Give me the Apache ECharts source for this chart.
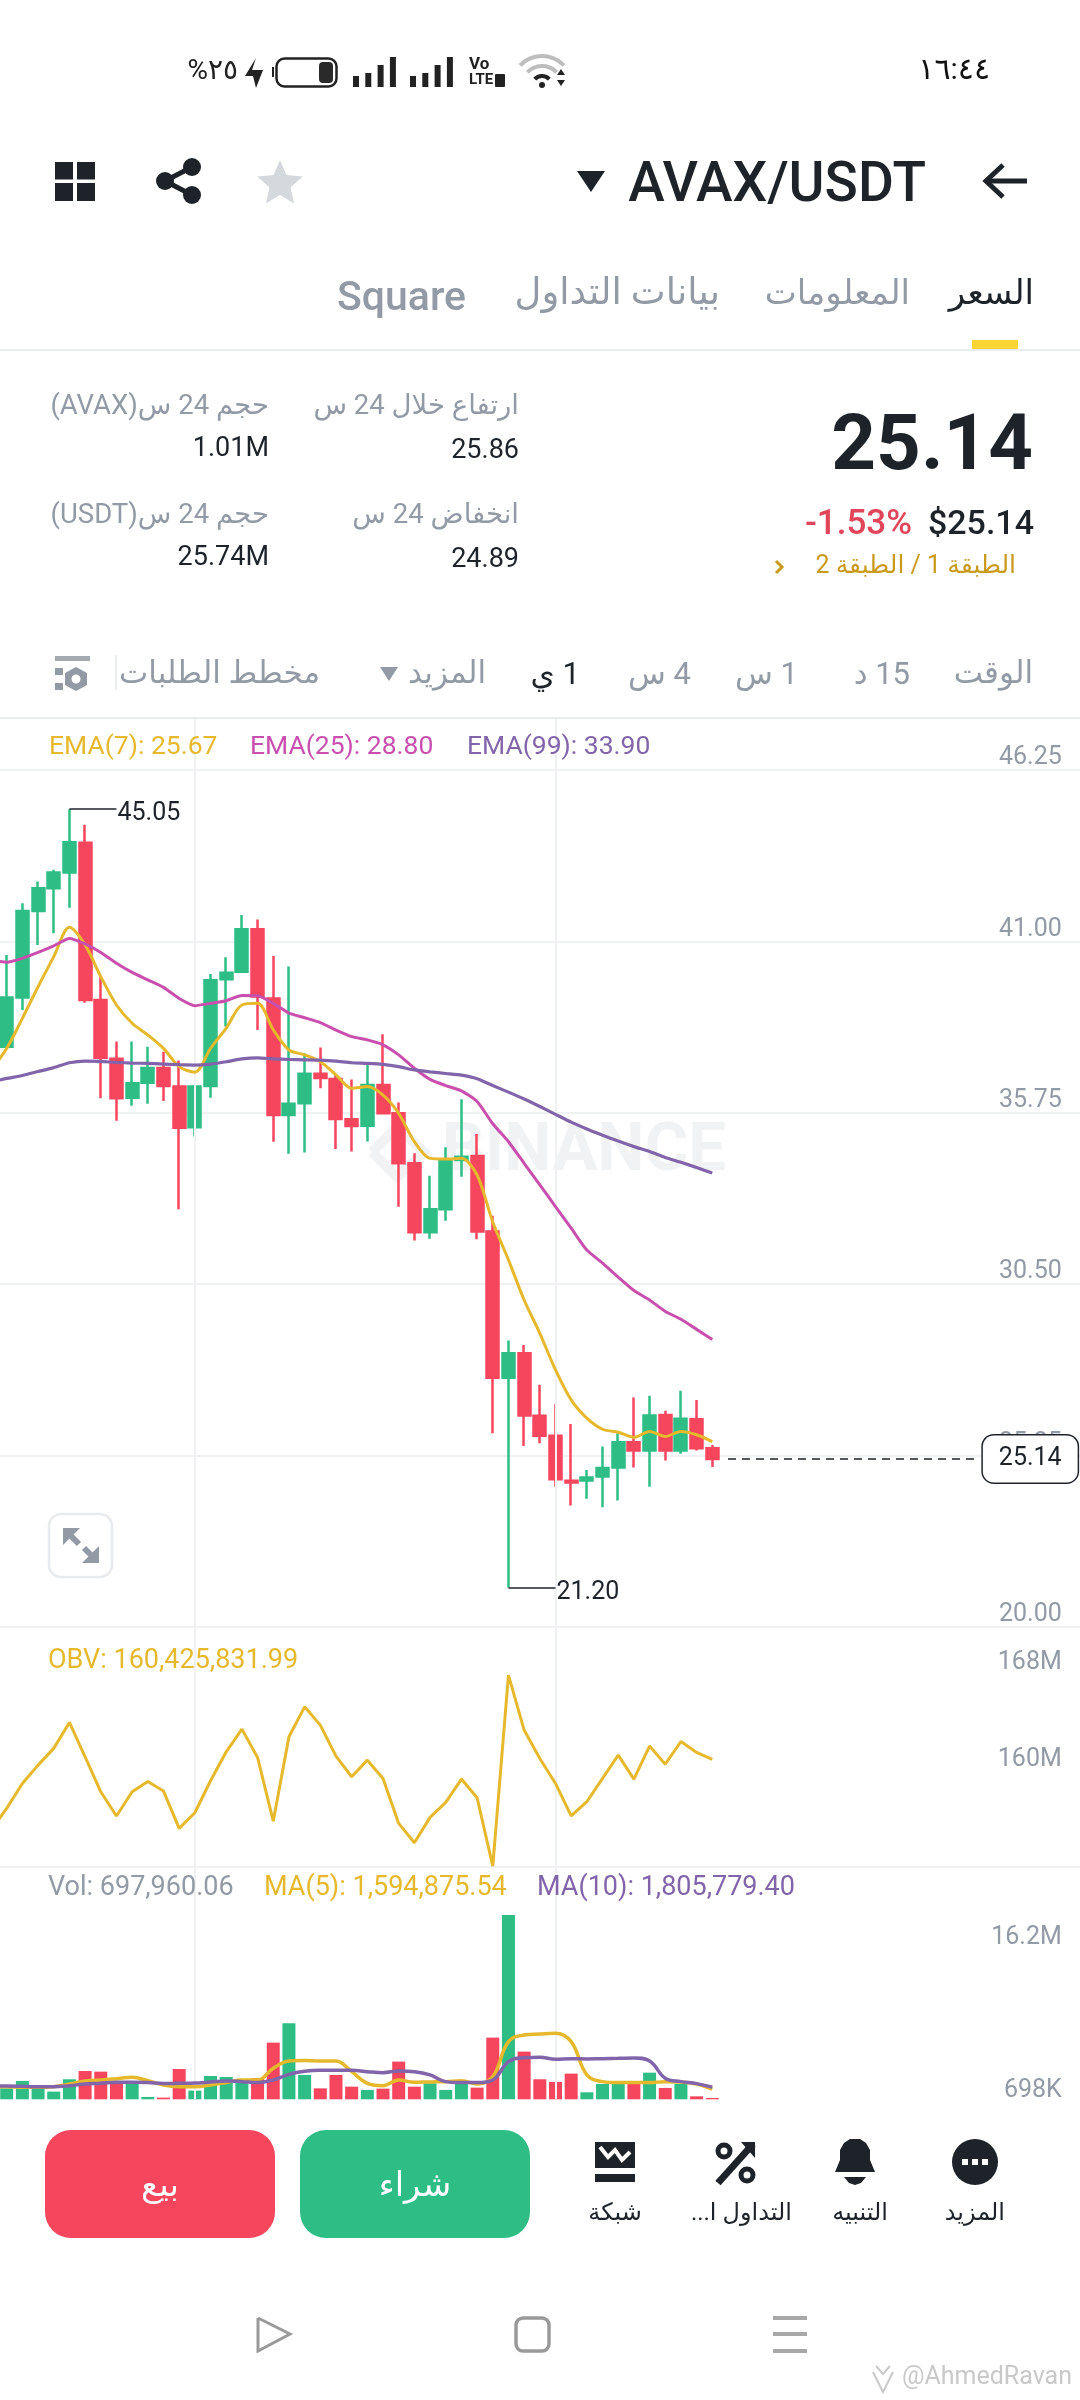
<!DOCTYPE html>
<html>
<head>
<meta charset="utf-8">
<title>AVAX/USDT</title>
<style>
html, body { margin: 0; padding: 0; background: #fff; }
#chart { width: 1080px; height: 2400px; }
</style>
<script src="https://cdn.jsdelivr.net/npm/echarts@6/dist/echarts.min.js"></script>
</head>
<body>
<div id="chart"></div>
<script>
// candles, first entry sits just off the left edge of the screen
var opens  = [36.80, 37.77, 39.28, 41.93, 42.63, 43.11, 44.02, 39.20, 37.40, 36.21, 36.67, 37.12, 36.55, 35.30, 36.57, 39.84, 40.07, 41.37, 39.25, 35.68, 36.04, 36.94, 36.78, 35.55, 35.35, 36.60, 35.73, 34.20, 32.09, 32.79, 34.30, 34.42, 32.11, 27.63, 28.38, 26.46, 25.85, 24.47, 24.48, 24.60, 24.88, 25.65, 25.40, 26.49, 25.40, 26.36, 25.47];
var closes = [37.77, 39.28, 41.93, 42.63, 43.11, 44.04, 39.20, 37.43, 36.19, 36.65, 37.12, 36.57, 35.29, 36.55, 39.81, 40.04, 41.37, 39.31, 35.68, 36.02, 36.94, 36.81, 35.56, 35.34, 36.60, 35.73, 34.20, 32.09, 32.79, 34.28, 34.40, 32.11, 27.63, 28.38, 26.47, 25.85, 24.52, 24.42, 24.57, 24.86, 25.65, 25.40, 26.47, 25.40, 26.37, 25.47, 25.14];
var lows   = [36.50, 37.70, 38.90, 40.89, 41.25, 42.03, 39.12, 36.19, 35.50, 35.96, 36.02, 36.11, 32.79, 35.02, 36.21, 38.39, 40.07, 38.28, 34.86, 34.49, 34.53, 36.50, 34.64, 34.56, 34.87, 35.71, 32.87, 31.83, 31.89, 32.44, 33.79, 31.87, 25.93, 21.20, 25.54, 25.62, 24.29, 23.71, 23.92, 23.66, 23.87, 24.88, 24.29, 25.09, 25.30, 25.40, 24.89];
var highs  = [38.00, 40.58, 42.17, 42.83, 43.19, 45.05, 44.57, 39.92, 37.93, 37.93, 37.77, 37.62, 37.35, 36.60, 40.00, 40.51, 41.81, 41.67, 40.55, 40.23, 37.57, 37.75, 36.91, 36.77, 37.24, 38.15, 36.06, 34.51, 33.82, 34.69, 36.16, 35.10, 32.59, 28.77, 28.63, 27.41, 26.82, 26.21, 24.80, 25.52, 25.93, 27.02, 27.08, 26.62, 27.23, 26.95, 25.57];

var ema7  = [37.06, 37.72, 38.64, 39.61, 40.53, 41.43, 40.89, 39.92, 39.05, 38.49, 38.13, 37.72, 37.16, 36.99, 37.72, 38.34, 39.05, 39.10, 38.29, 37.67, 37.52, 37.31, 36.91, 36.50, 36.55, 36.29, 35.73, 34.86, 34.35, 34.33, 34.35, 33.84, 32.40, 31.24, 30.01, 28.99, 27.87, 26.95, 26.39, 26.05, 25.96, 25.80, 25.98, 25.83, 25.98, 25.88, 25.67];
var ema25 = [40.43, 40.36, 40.48, 40.66, 40.86, 41.09, 40.92, 40.66, 40.33, 40.05, 39.82, 39.59, 39.25, 39.03, 39.10, 39.18, 39.34, 39.33, 39.10, 38.80, 38.66, 38.51, 38.28, 38.08, 37.98, 37.83, 37.52, 37.11, 36.77, 36.58, 36.42, 36.09, 35.41, 34.86, 34.20, 33.54, 32.87, 32.21, 31.54, 31.14, 30.71, 30.30, 30.01, 29.66, 29.42, 29.11, 28.80];
var ema99 = [36.70, 36.80, 36.89, 37.01, 37.13, 37.28, 37.33, 37.32, 37.29, 37.27, 37.26, 37.24, 37.22, 37.21, 37.24, 37.31, 37.40, 37.43, 37.40, 37.38, 37.37, 37.36, 37.33, 37.28, 37.26, 37.23, 37.16, 37.06, 37.00, 36.95, 36.90, 36.79, 36.58, 36.38, 36.17, 35.94, 35.70, 35.46, 35.25, 35.06, 34.88, 34.71, 34.56, 34.38, 34.23, 34.07, 33.90];

// OBV in millions
var obv = [154.60, 156.39, 158.45, 159.96, 161.34, 163.48, 160.65, 157.76, 155.76, 157.76, 158.61, 157.82, 154.74, 156.03, 158.67, 161.06, 162.93, 160.59, 155.34, 162.30, 164.77, 163.26, 160.70, 159.00, 160.37, 158.86, 155.15, 153.56, 155.65, 156.88, 158.81, 157.27, 151.63, 167.38, 162.85, 160.51, 158.45, 155.78, 156.94, 158.86, 160.79, 158.81, 161.53, 160.04, 161.91, 161.01, 160.43];

// volume in millions
var volumes = [1.60, 1.68, 2.43, 1.68, 1.35, 2.60, 3.44, 3.37, 2.36, 2.36, 0.81, 0.74, 3.64, 1.45, 2.93, 2.83, 2.36, 2.70, 6.31, 8.27, 3.04, 1.68, 3.04, 1.85, 1.52, 1.65, 4.39, 1.85, 2.19, 1.52, 2.36, 1.75, 6.82, 19.24, 5.40, 2.60, 2.33, 3.17, 1.28, 2.12, 2.12, 2.12, 3.27, 1.72, 2.12, 0.87, 0.698];
var ma5  = [1.85, 1.85, 1.79, 1.79, 1.85, 2.12, 2.43, 2.53, 2.66, 2.80, 2.46, 2.02, 1.85, 1.85, 2.02, 2.26, 2.53, 2.53, 3.71, 4.45, 4.49, 4.45, 4.45, 3.37, 2.19, 1.95, 2.53, 2.29, 2.33, 2.36, 2.46, 2.12, 2.87, 6.41, 7.09, 7.19, 7.26, 6.41, 3.04, 2.36, 2.26, 2.26, 2.26, 2.36, 2.33, 2.12, 1.595];
var ma10 = [1.92, 1.92, 1.89, 1.85, 1.85, 1.95, 2.12, 2.19, 2.29, 2.29, 2.26, 2.16, 2.19, 2.22, 2.33, 2.43, 2.36, 2.26, 2.53, 3.10, 3.41, 3.51, 3.51, 3.51, 3.37, 3.27, 3.44, 3.37, 3.04, 2.36, 2.26, 2.26, 2.53, 4.39, 4.79, 4.82, 4.62, 4.69, 4.66, 4.69, 4.72, 4.76, 4.45, 2.70, 2.36, 2.16, 1.806];

var priceTicks = [20, 25.25, 30.5, 35.75, 41, 46.25];
var obvTicks = [160, 168];
var volTicks = [0.698, 16.2];
var verticalLines = [13, 36];
var slots = [];
for (var s = 0; s < 70; s++) slots.push(String(s));

var UP = '#2ebd85', DOWN = '#f6465d', DARK = '#1e2329', GREY = '#929aa5', LINE = '#f0f1f3';
var YELLOW = '#e6b82c', PINK = '#c94fae', PURPLE = '#8264ab';
var FONT = 'Roboto, "DejaVu Sans", sans-serif';

var myChart = echarts.init(document.getElementById('chart'));

var candles = opens.map(function (o, i) { return [o, closes[i], lows[i], highs[i]]; });
var volumeBars = volumes.map(function (v, i) {
    return { value: v, itemStyle: { color: closes[i] >= opens[i] ? UP : DOWN } };
});

function lineSeries(name, data, color, grid, width, smooth) {
    return {
        name: name, type: 'line', data: data, xAxisIndex: grid, yAxisIndex: grid,
        showSymbol: false, smooth: smooth, silent: true, z: 5,
        lineStyle: { color: color, width: width }
    };
}

function leader(index, value, text) {
    return [{
        coord: [index, value],
        lineStyle: { type: 'solid', color: DARK, width: 1.5 },
        label: { show: true, position: 'end', formatter: text, color: DARK, fontSize: 25, distance: 1, fontFamily: FONT, offset: [0, 5] }
    }, { coord: [index + 3, value] }];
}

function hiddenX(grid, line) {
    return {
        type: 'category', gridIndex: grid, data: slots, boundaryGap: true,
        axisLabel: { show: false }, axisTick: { show: false }, splitLine: { show: false },
        axisLine: { show: !!line, lineStyle: { color: LINE, width: 2 } }
    };
}

function rightY(grid, min, max, ticks, fmt, gridLines, labelHeight) {
    return {
        type: 'value', gridIndex: grid, position: 'right', min: min, max: max, scale: true,
        axisLine: { show: false },
        axisTick: { show: false, customValues: ticks },
        splitLine: { show: gridLines, lineStyle: { color: LINE, width: 2 } },
        axisLabel: {
            show: true, inside: true, customValues: ticks, formatter: fmt, margin: 19,
            color: GREY, fontSize: 25, fontFamily: FONT, verticalAlign: 'bottom', lineHeight: labelHeight
        }
    };
}

// ---- screen furniture ----
function rtl(s) { return '\u202B' + s + '\u202C'; }
function txt(text, x, y, size, color, align, weight) {
    return { type: 'text', x: x, y: y, silent: true, style: {
        text: text, fill: color, font: (weight || 'normal') + ' ' + size + 'px ' + FONT,
        align: align || 'right', verticalAlign: 'middle' } };
}
// legends sit over the time lines
function legend(text, x, y, size, color) {
    var el = txt(text, x, y, size, color, 'left');
    el.z = 10;
    return el;
}
function box(x, y, w, h, fill, r, stroke, lw) {
    return { type: 'rect', silent: true, shape: { x: x, y: y, width: w, height: h, r: r || 0 },
        style: { fill: fill || 'none', stroke: stroke || 'none', lineWidth: lw || 0 } };
}
function poly(points, fill) {
    return { type: 'polygon', silent: true, shape: { points: points }, style: { fill: fill } };
}
function stroke(points, color, w) {
    return { type: 'polyline', silent: true, shape: { points: points },
        style: { stroke: color, lineWidth: w, fill: 'none' } };
}
function dot(cx, cy, r, fill, strokeColor, lw) {
    return { type: 'circle', silent: true, shape: { cx: cx, cy: cy, r: r },
        style: { fill: fill || 'none', stroke: strokeColor || 'none', lineWidth: lw || 0 } };
}
function arc(cx, cy, r, color, w) {
    return { type: 'arc', silent: true,
        shape: { cx: cx, cy: cy, r: r, startAngle: -Math.PI * 0.76, endAngle: -Math.PI * 0.24, clockwise: true },
        style: { stroke: color, lineWidth: w, fill: 'none' } };
}
function bars(x0) {
    var tops = [76, 73, 65, 57], out = [];
    tops.forEach(function (t, i) { out.push(box(x0 + i * 12.3, t, 6, 87 - t, '#222')); });
    return out;
}
function star(cx, cy, R, r, fill) {
    var pts = [];
    for (var i = 0; i < 10; i++) {
        var a = -Math.PI / 2 + i * Math.PI / 5, q = i % 2 ? r : R;
        pts.push([cx + q * Math.cos(a), cy + q * Math.sin(a)]);
    }
    return poly(pts, fill);
}

var furniture = [
    // status bar
    txt('\u0661\u0666:\u0664\u0664', 990, 71, 30, '#111', 'right', 'normal'),
    txt('%\u0662\u0665', 238, 72, 28, '#222', 'right', 'normal'),
    poly([[256, 58], [252, 70], [263, 70], [256, 88], [253, 76], [245, 76]], '#222'),
    box(272, 67, 2, 10, '#222'),
    box(276.5, 58.5, 60, 28, '#fff', 8, '#222', 2.5),
    box(319, 62, 14, 21, '#2a2a2a', 4),
    txt('Vo', 469, 65, 17, '#222', 'left', 'bold'),
    txt('LTE', 469, 80, 15, '#222', 'left', 'bold'),
    box(495, 74, 10, 13, '#222', 1),
    arc(542, 86, 30, '#bdbdbd', 4),
    arc(542, 86, 20, '#bdbdbd', 4),
    arc(542, 86, 10, '#222', 4),
    dot(542, 85, 3, '#222'),
    poly([[557, 75], [565, 75], [561, 69]], '#222'),
    poly([[557, 80], [565, 80], [561, 86]], '#222'),
    // header
    stroke([[1003, 165], [986, 181], [1003, 197]], DARK, 5),
    stroke([[987, 181], [1027, 181]], DARK, 5),
    txt('AVAX/USDT', 926, 187, 55, DARK, 'right', 500),
    poly([[577, 171], [605, 171], [591, 192]], DARK),
    star(280, 184, 24, 11, '#d5d8dc'),
    dot(165, 181, 9, DARK), dot(192, 167, 9, DARK), dot(192, 195, 9, DARK),
    stroke([[192, 167], [165, 181], [192, 195]], DARK, 5),
    box(55, 162, 18, 17.5, DARK), box(77, 162, 18, 17.5, DARK),
    box(55, 183, 18, 18, DARK), box(77, 183, 18, 18, DARK),
    // tabs
    txt('\u0627\u0644\u0633\u0639\u0631', 1034, 295, 34, DARK),
    txt('\u0627\u0644\u0645\u0639\u0644\u0648\u0645\u0627\u062A', 910, 295, 34, GREY),
    txt('\u0628\u064A\u0627\u0646\u0627\u062A \u0627\u0644\u062A\u062F\u0627\u0648\u0644', 720, 295, 37, GREY),
    txt('Square', 466, 300, 41, GREY, 'right', 500),
    box(972, 340, 46, 9, '#fcd535'),
    box(0, 349, 1080, 2, '#eaecef'),
    // 24h stats
    txt(rtl('\u0627\u0631\u062A\u0641\u0627\u0639 \u062E\u0644\u0627\u0644 24 \u0633'), 519, 407, 27.5, GREY),
    txt('25.86', 519, 451, 27, DARK),
    txt(rtl('\u0627\u0646\u062E\u0641\u0627\u0636 24 \u0633'), 519, 516, 27.5, GREY),
    txt('24.89', 519, 560, 27, DARK),
    txt(rtl('\u062D\u062C\u0645 24 \u0633(AVAX)'), 269, 407, 27.5, GREY),
    txt('1.01M', 269, 449, 27, DARK),
    txt(rtl('\u062D\u062C\u0645 24 \u0633(USDT)'), 269, 516, 27.5, GREY),
    txt('25.74M', 269, 558, 27, DARK),
    txt('25.14', 1033, 449, 78, DARK, 'right', 'bold'),
    txt('$25.14', 1034, 525, 34, DARK, 'right', 500),
    txt('-1.53%', 912, 525, 35, '#e0455a', 'right', 500),
    txt(rtl('\u0627\u0644\u0637\u0628\u0642\u0629 1 / \u0627\u0644\u0637\u0628\u0642\u0629 2'), 1016, 567, 25, '#c99a1c'),
    stroke([[776, 561], [782, 567], [776, 573]], '#c99a1c', 3),
    // interval bar
    txt('\u0627\u0644\u0648\u0642\u062A', 1033, 675, 31, GREY),
    txt(rtl('15 \u062F'), 910, 676, 31, GREY),
    txt(rtl('1 \u0633'), 798, 676, 31, GREY),
    txt(rtl('4 \u0633'), 691, 676, 31, GREY),
    txt(rtl('1 \u064A'), 580, 676, 31, DARK),
    txt('\u0627\u0644\u0645\u0632\u064A\u062F', 486, 675, 31, GREY),
    poly([[380, 667], [398, 667], [389, 681]], GREY),
    txt('\u0645\u062E\u0637\u0637 \u0627\u0644\u0637\u0644\u0628\u0627\u062A', 320, 675, 31, GREY),
    box(115, 655, 2, 35, '#eaecef'),
    box(55, 656, 35, 5, '#a4a9b0'),
    box(55, 668, 8, 7, GREY), box(55, 683, 8, 7, GREY),
    poly([[76, 667], [87, 673], [87, 685], [76, 691], [65, 685], [65, 673]], GREY),
    dot(76, 679, 4.5, '#fff'),
    box(0, 717, 1080, 2, '#eaecef'),
    // legends
    legend('EMA(7): 25.67', 49, 747, 26.5, YELLOW),
    legend('EMA(25): 28.80', 250, 747, 26.5, PINK),
    legend('EMA(99): 33.90', 467, 747, 26.5, PURPLE),
    legend('OBV: 160,425,831.99', 48, 1661, 27, YELLOW),
    legend('Vol: 697,960.06', 48, 1888, 27, GREY),
    legend('MA(5): 1,594,875.54', 264, 1888, 27, YELLOW),
    legend('MA(10): 1,805,779.40', 537, 1888, 27, PURPLE),
    // watermark
    txt('BINANCE', 726, 1153, 67, '#f1f2f4', 'right', 'bold'),
    stroke([[372, 1152], [397, 1127], [424, 1152], [397, 1177], [372, 1152]], '#f1f2f4', 10),
    // expand button
    box(49, 1514, 63, 63, '#fff', 12, '#e8eaed', 2.5),
    poly([[63, 1528], [80, 1528], [63, 1545]], GREY),
    stroke([[70, 1535], [79, 1544]], GREY, 6),
    poly([[99, 1563], [82, 1563], [99, 1546]], GREY),
    stroke([[92, 1556], [84, 1548]], GREY, 6),
    // trade buttons
    box(45, 2130, 230, 108, '#f6465d', 26),
    txt('\u0628\u064A\u0639', 160, 2187, 34, '#fff', 'center'),
    box(300, 2130, 230, 108, '#2ebd85', 26),
    txt('\u0634\u0631\u0627\u0621', 415, 2187, 34, '#fff', 'center'),
    // tools
    box(595, 2142, 40, 26, DARK),
    stroke([[600, 2147], [608, 2157], [615, 2150], [622, 2160], [630, 2152]], '#fff', 4),
    box(595, 2174, 40, 8, DARK),
    txt('\u0634\u0628\u0643\u0629', 615, 2214, 24, DARK, 'center'),
    stroke([[718, 2183], [753, 2144]], DARK, 7),
    dot(724, 2151, 6, 'none', DARK, 5), dot(747, 2175, 6, 'none', DARK, 5),
    poly([[741, 2142], [755, 2142], [755, 2158]], DARK),
    txt(rtl('\u0627\u0644\u062A\u062F\u0627\u0648\u0644 \u0627...'), 792, 2214, 24, DARK),
    poly([[835, 2172], [875, 2172], [870, 2160], [870, 2150], [866, 2143], [860, 2139], [850, 2139], [844, 2143], [840, 2150], [840, 2160]], DARK),
    poly([[844, 2177], [866, 2177], [861, 2183], [855, 2185], [849, 2183]], DARK),
    txt('\u0627\u0644\u062A\u0646\u0628\u064A\u0647', 888, 2214, 24, DARK),
    dot(975, 2162, 23, DARK),
    box(962, 2159, 6, 6, '#fff'), box(972, 2159, 6, 6, '#fff'), box(982, 2159, 6, 6, '#fff'),
    txt('\u0627\u0644\u0645\u0632\u064A\u062F', 1005, 2214, 24, DARK),
    // navigation bar
    stroke([[258, 2318], [290, 2334], [258, 2351], [258, 2318]], '#9a9a9a', 3),
    box(516, 2318, 33, 33, 'none', 7, '#9a9a9a', 3.5),
    box(773, 2316, 34, 4, '#a8a8a8'), box(773, 2332, 34, 4, '#a8a8a8'), box(773, 2349, 34, 4, '#a8a8a8'),
    txt('@AhmedRavan', 1072, 2378, 25, '#c9c9c9'),
    stroke([[873, 2372], [883, 2392], [893, 2372]], '#c9c9c9', 2),
    stroke([[876, 2366], [883, 2374], [890, 2366]], '#c9c9c9', 2)
].concat(bars(353), bars(410));

var option = {
    animation: false,
    backgroundColor: '#fff',
    textStyle: { fontFamily: FONT },
    graphic: { elements: furniture },
    grid: [
        { left: -16.82, width: 1097.6, top: 770, height: 856.7, outerBoundsMode: 'none' },
        { left: -16.82, width: 1097.6, top: 1626.7, height: 240, outerBoundsMode: 'none' },
        { left: -16.82, width: 1097.6, top: 1900, height: 199.3, outerBoundsMode: 'none' },
        { left: -16.82, width: 1097.6, top: 719, height: 1380, outerBoundsMode: 'none' }
    ],
    xAxis: [hiddenX(0), hiddenX(1, true), hiddenX(2), hiddenX(3)],
    yAxis: [
        rightY(0, 20, 46.25, priceTicks, function (v) { return v.toFixed(2); }, true, 24),
        rightY(1, 151.58, 171.38, obvTicks, function (v) { return v + 'M'; }, false, 10),
        rightY(2, 0.57, 20.76, volTicks, function (v) { return v < 1 ? '698K' : v + 'M'; }, false, 14),
        { type: 'value', gridIndex: 3, min: 0, max: 1, show: false }
    ],
    series: [
        {
            name: 'time', type: 'line', xAxisIndex: 3, yAxisIndex: 3, data: [], silent: true, z: 1,
            markLine: {
                symbol: 'none', silent: true, animation: false, label: { show: false },
                lineStyle: { type: 'solid', color: LINE, width: 2 },
                data: verticalLines.map(function (i) { return { xAxis: i }; })
            }
        },
        {
            name: 'AVAX/USDT', type: 'candlestick', data: candles, xAxisIndex: 0, yAxisIndex: 0,
            barWidth: 12.5, silent: true, z: 3,
            itemStyle: { color: UP, color0: DOWN, borderColor: UP, borderColor0: DOWN, borderWidth: 2.5 },
            markLine: {
                symbol: 'none', silent: true, animation: false,
                data: [
                    leader(5, 45.05, '45.05'),
                    leader(33, 21.20, '21.20'),
                    [{
                        coord: [47, 25.14],
                        lineStyle: { type: [8, 6], color: DARK, width: 1.5 },
                        label: {
                            show: true, position: 'end', formatter: '25.14', distance: 4,
                            color: DARK, fontSize: 25, fontFamily: FONT, backgroundColor: '#fff',
                            borderColor: DARK, borderWidth: 1.5, borderRadius: 11,
                            padding: [18, 16, 4, 16]
                        }
                    }, { coord: [63, 25.14] }]
                ]
            }
        },
        lineSeries('EMA(7)', ema7, YELLOW, 0, 3, 0.3),
        lineSeries('EMA(25)', ema25, PINK, 0, 3, 0.2),
        lineSeries('EMA(99)', ema99, PURPLE, 0, 3.2, 0.2),
        lineSeries('OBV', obv, YELLOW, 1, 3, false),
        {
            name: 'Vol', type: 'bar', data: volumeBars, xAxisIndex: 2, yAxisIndex: 2,
            barWidth: 13, silent: true, z: 3
        },
        lineSeries('MA(5)', ma5, YELLOW, 2, 3.5, 0.4),
        lineSeries('MA(10)', ma10, PURPLE, 2, 3.5, 0.4)
    ]
};

myChart.setOption(option);
</script>
</body>
</html>
